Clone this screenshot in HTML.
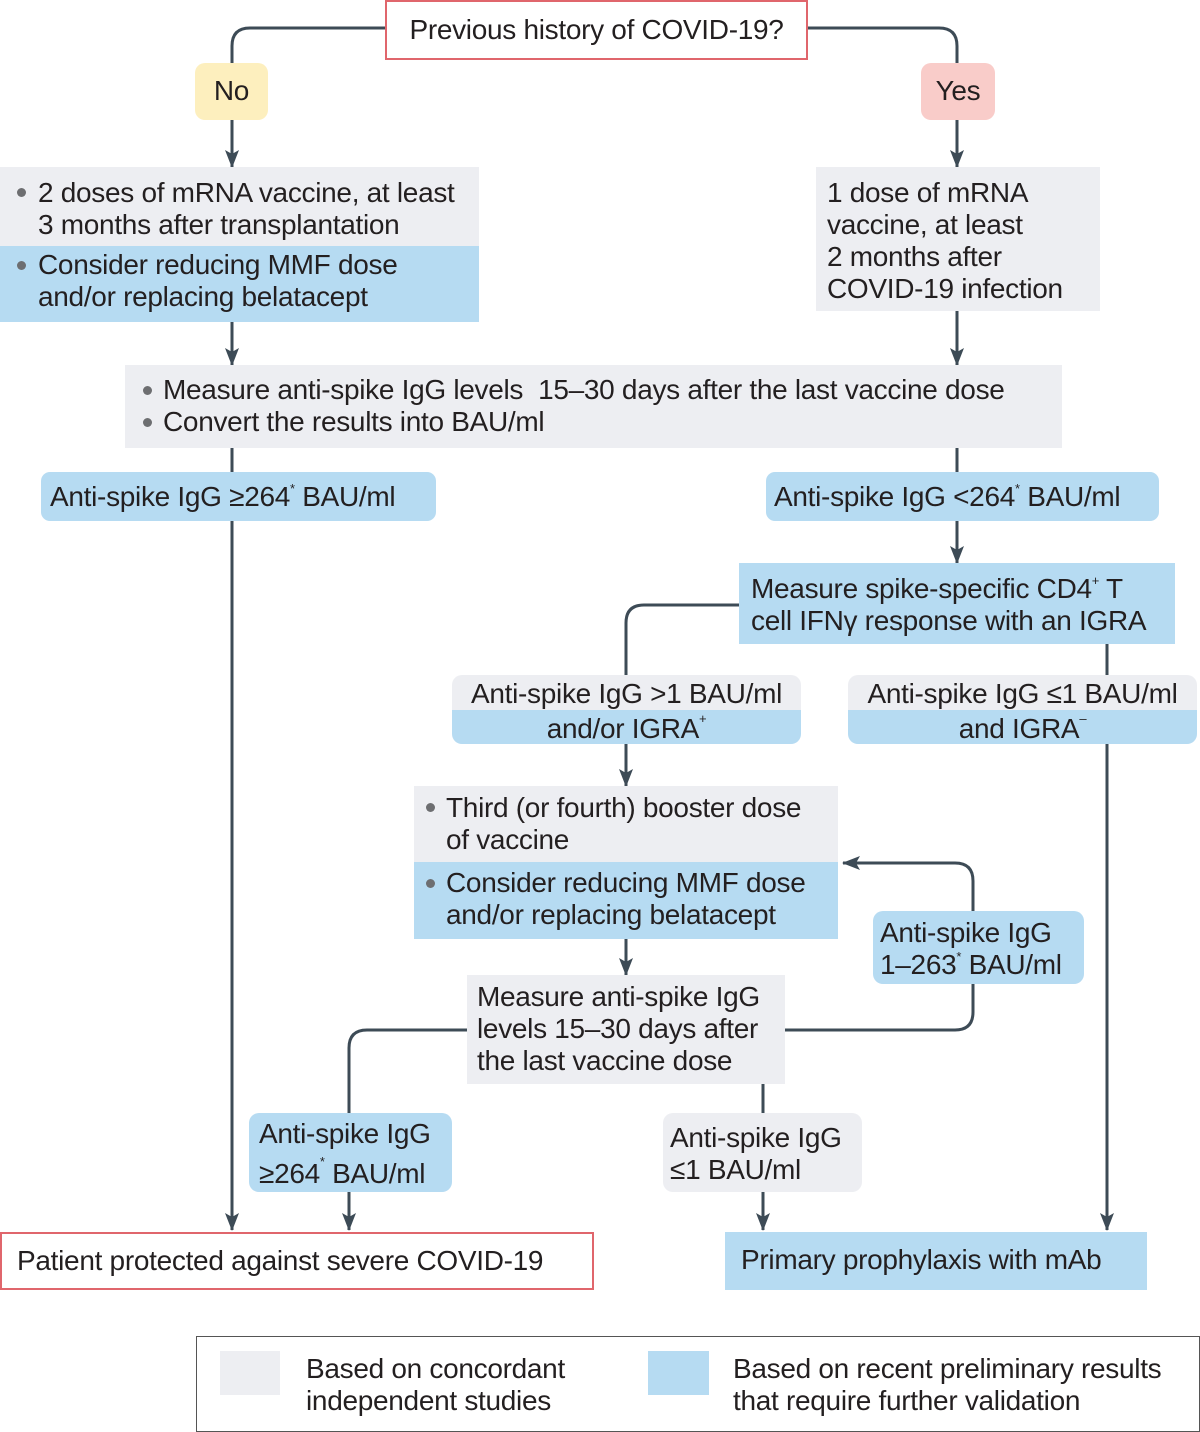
<!DOCTYPE html>
<html><head><meta charset="utf-8"><style>
body{margin:0;background:#fff}
#c{position:relative;width:1200px;height:1432px;overflow:hidden;font-family:"Liberation Sans",sans-serif;font-size:28px;color:#231f20;letter-spacing:-0.3px}
.b{position:absolute;box-sizing:border-box}
.g{background:#edeef2}.bl{background:#b6dbf2}
.t{position:absolute;line-height:32px;white-space:nowrap}
sup{line-height:0;font-size:13px;vertical-align:top;position:relative;top:8px}
.d{position:absolute;width:9px;height:9px;border-radius:50%;background:#6d6e71}
svg{position:absolute;left:0;top:0}
</style></head><body><div id="c">
<svg width="1200" height="1432">
<defs><marker id="a" markerUnits="userSpaceOnUse" markerWidth="18" markerHeight="14" refX="17" refY="7" orient="auto" viewBox="0 0 18 14"><path d="M0,0 L18,7 L0,14 L4,7 Z" fill="#3d4b56"/></marker></defs>
<g fill="none" stroke="#3d4b56" stroke-width="3">
<path d="M385,28 H250 Q232,28 232,46 V63"/>
<path d="M232,120 V167" marker-end="url(#a)"/>
<path d="M808,28 H939 Q957,28 957,46 V63"/>
<path d="M957,120 V167" marker-end="url(#a)"/>
<path d="M232,322 V365" marker-end="url(#a)"/>
<path d="M957,311 V365" marker-end="url(#a)"/>
<path d="M232,448 V472"/>
<path d="M232,521 V1230" marker-end="url(#a)"/>
<path d="M957,448 V472"/>
<path d="M957,521 V563" marker-end="url(#a)"/>
<path d="M739,605 H644 Q626,605 626,623 V675"/>
<path d="M1107,644 V675"/>
<path d="M1107,744 V1230" marker-end="url(#a)"/>
<path d="M626,744 V786" marker-end="url(#a)"/>
<path d="M626,939 V975" marker-end="url(#a)"/>
<path d="M785,1030 H955 Q973,1030 973,1012 V984"/>
<path d="M973,911 V881 Q973,863 955,863 H843" marker-end="url(#a)"/>
<path d="M467,1030 H367 Q349,1030 349,1048 V1113"/>
<path d="M349,1192 V1230" marker-end="url(#a)"/>
<path d="M763,1084 V1113"/>
<path d="M763,1192 V1230" marker-end="url(#a)"/>
</g></svg>

<div class="b" style="left:385px;top:0;width:423px;height:60px;border:2px solid #e0666c;background:#fff"></div>
<div class="t" style="left:385px;width:423px;text-align:center;top:14px">Previous history of COVID-19?</div>

<div class="b" style="left:195px;top:63px;width:73px;height:57px;border-radius:10px;background:#fdefbe"></div>
<div class="t" style="left:195px;width:73px;text-align:center;top:75px">No</div>
<div class="b" style="left:921px;top:63px;width:74px;height:57px;border-radius:10px;background:#f9ccc9"></div>
<div class="t" style="left:921px;width:74px;text-align:center;top:75px">Yes</div>

<div class="b g" style="left:0;top:167px;width:479px;height:79px"></div>
<div class="b bl" style="left:0;top:246px;width:479px;height:76px"></div>
<div class="d" style="left:17px;top:188px"></div>
<div class="t" style="left:38px;top:177px">2 doses of mRNA vaccine, at least<br>3 months after transplantation</div>
<div class="d" style="left:17px;top:261px"></div>
<div class="t" style="left:38px;top:249px">Consider reducing MMF dose<br>and/or replacing belatacept</div>

<div class="b g" style="left:816px;top:167px;width:284px;height:144px"></div>
<div class="t" style="left:827px;top:177px">1 dose of mRNA<br>vaccine, at least<br>2 months after<br>COVID-19 infection</div>

<div class="b g" style="left:125px;top:365px;width:937px;height:83px"></div>
<div class="d" style="left:143px;top:386px"></div>
<div class="d" style="left:143px;top:418px"></div>
<div class="t" style="left:163px;top:374px">Measure anti-spike IgG levels &nbsp;15–30 days after the last vaccine dose<br>Convert the results into BAU/ml</div>

<div class="b bl" style="left:41px;top:472px;width:395px;height:49px;border-radius:9px"></div>
<div class="t" style="left:50px;top:481px">Anti-spike IgG ≥264<sup>*</sup> BAU/ml</div>
<div class="b bl" style="left:766px;top:472px;width:393px;height:49px;border-radius:9px"></div>
<div class="t" style="left:774px;top:481px">Anti-spike IgG &lt;264<sup>*</sup> BAU/ml</div>

<div class="b bl" style="left:739px;top:563px;width:436px;height:81px"></div>
<div class="t" style="left:751px;top:573px">Measure spike-specific CD4<sup>+</sup> T<br>cell IFNγ response with an IGRA</div>

<div class="b" style="left:452px;top:675px;width:349px;height:69px;border-radius:10px;overflow:hidden;background:linear-gradient(#edeef2 0 35px,#b6dbf2 35px)"></div>
<div class="t" style="left:452px;width:349px;text-align:center;top:676px;line-height:35px">Anti-spike IgG &gt;1 BAU/ml<br>and/or IGRA<sup>+</sup></div>
<div class="b" style="left:848px;top:675px;width:349px;height:69px;border-radius:10px;overflow:hidden;background:linear-gradient(#edeef2 0 35px,#b6dbf2 35px)"></div>
<div class="t" style="left:848px;width:349px;text-align:center;top:676px;line-height:35px">Anti-spike IgG ≤1 BAU/ml<br>and IGRA<sup>–</sup></div>

<div class="b g" style="left:414px;top:786px;width:424px;height:76px"></div>
<div class="b bl" style="left:414px;top:862px;width:424px;height:77px"></div>
<div class="d" style="left:426px;top:803px"></div>
<div class="t" style="left:446px;top:792px">Third (or fourth) booster dose<br>of vaccine</div>
<div class="d" style="left:426px;top:879px"></div>
<div class="t" style="left:446px;top:867px">Consider reducing MMF dose<br>and/or replacing belatacept</div>

<div class="b bl" style="left:873px;top:911px;width:211px;height:73px;border-radius:10px"></div>
<div class="t" style="left:880px;top:917px">Anti-spike IgG<br>1–263<sup>*</sup> BAU/ml</div>

<div class="b g" style="left:467px;top:975px;width:318px;height:109px"></div>
<div class="t" style="left:477px;top:981px">Measure anti-spike IgG<br>levels 15–30 days after<br>the last vaccine dose</div>

<div class="b bl" style="left:249px;top:1113px;width:203px;height:79px;border-radius:10px"></div>
<div class="t" style="left:259px;top:1114px;line-height:40px">Anti-spike IgG<br>≥264<sup>*</sup> BAU/ml</div>

<div class="b g" style="left:663px;top:1113px;width:199px;height:79px;border-radius:10px"></div>
<div class="t" style="left:670px;top:1122px">Anti-spike IgG<br>≤1 BAU/ml</div>

<div class="b" style="left:0;top:1232px;width:594px;height:58px;border:2px solid #e0666c"></div>
<div class="t" style="left:17px;top:1245px">Patient protected against severe COVID-19</div>
<div class="b bl" style="left:725px;top:1232px;width:422px;height:58px"></div>
<div class="t" style="left:741px;top:1244px">Primary prophylaxis with mAb</div>

<div class="b" style="left:196px;top:1336px;width:1004px;height:96px;border:1.5px solid #555"></div>
<div class="b g" style="left:220px;top:1351px;width:60px;height:44px"></div>
<div class="t" style="left:306px;top:1353px">Based on concordant<br>independent studies</div>
<div class="b bl" style="left:648px;top:1351px;width:61px;height:44px"></div>
<div class="t" style="left:733px;top:1353px">Based on recent preliminary results<br>that require further validation</div>
</div></body></html>
